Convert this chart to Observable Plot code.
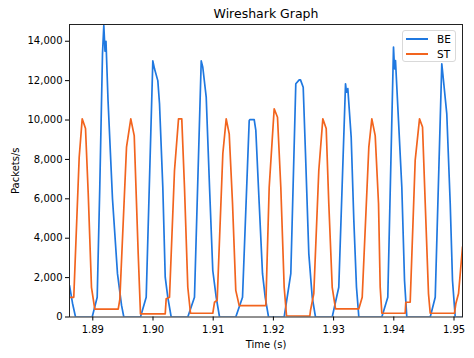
<!DOCTYPE html>
<html>
<head>
<meta charset="utf-8">
<script src="https://cdn.jsdelivr.net/npm/d3@7"></script>
<script src="https://cdn.jsdelivr.net/npm/@observablehq/plot@0.6"></script>
<style>
  html, body { margin: 0; padding: 0; background: #fff; }
  #wrap { position: relative; width: 474px; height: 358px; font-family: "DejaVu Sans", sans-serif; }
  #legend { position: absolute; left: 402px; top: 30px; width: 54px; height: 32px;
    border: 1px solid #d9d9d9; border-radius: 3px; background: rgba(255,255,255,0.85);
    font-size: 10.5px; color: #000; box-sizing: border-box; }
  .row { position: absolute; left: 3px; height: 12px; display: flex; align-items: center; }
  .sw { width: 22px; height: 0; border-top: 2px solid; margin-right: 9px; }
</style>
</head>
<body>
<div id="wrap"></div>
<script>
const title = "Wireshark Graph";
const xLabel = "Time (s)";
const yLabel = "Packets/s";
const seriesNames = ["BE", "ST"];
const seriesColors = ["#1f78e0", "#f2641e"];
const xTicks = [1.89, 1.90, 1.91, 1.92, 1.93, 1.94, 1.95];
const yTicks = [0, 2000, 4000, 6000, 8000, 10000, 12000, 14000];
const xDomain = [1.88613, 1.95141];
const yDomain = [0, 14850];

const beTime = [1.88613, 1.88663, 1.88713, 1.88990, 1.89073, 1.89116, 1.89161, 1.89183, 1.89203, 1.89219, 1.89253, 1.89327, 1.89410, 1.89477, 1.89515,
  1.89792, 1.89887, 1.89997, 1.90025, 1.90080, 1.90108, 1.90163, 1.90203, 1.90246, 1.90302,
  1.90578, 1.90689, 1.90801, 1.90827, 1.90884, 1.90939, 1.90993, 1.91050, 1.91105,
  1.91375, 1.91487, 1.91598, 1.91608, 1.91681, 1.91708, 1.91764, 1.91819, 1.91864, 1.91919,
  1.92179, 1.92289, 1.92372, 1.92429, 1.92450, 1.92495, 1.92533, 1.92588, 1.92645, 1.92699,
  1.92977, 1.93086, 1.93198, 1.93214, 1.93236, 1.93292, 1.93336, 1.93380, 1.93419,
  1.93801, 1.93900, 1.93995, 1.94012, 1.94028, 1.94078, 1.94133, 1.94178, 1.94216,
  1.94605, 1.94688, 1.94797, 1.94814, 1.94880, 1.94937, 1.94975, 1.95020, 1.95141];
const beValue = [1600, 700, 0, 0, 1000, 6590, 13360, 14800, 13500, 14000, 11000, 6000, 2200, 600, 0,
  0, 1000, 13000, 12600, 12000, 10840, 6590, 2020, 1000, 0,
  0, 1000, 13000, 12680, 11160, 6590, 2360, 1000, 0,
  0, 1000, 9970, 10025, 10025, 9470, 5760, 2200, 1000, 0,
  0, 2200, 11840, 12040, 12040, 11660, 8300, 3220, 1000, 0,
  0, 1510, 11840, 11410, 11600, 9130, 4900, 1510, 0,
  0, 1000, 13700, 12600, 13020, 9970, 6590, 1850, 0,
  0, 1000, 12850, 12350, 10310, 5760, 1850, 0, 0];

const stTime = [1.88613, 1.88684, 1.88774, 1.88824, 1.88879, 1.88924, 1.88978, 1.89033, 1.89422,
  1.89449, 1.89560, 1.89631, 1.89688, 1.89754, 1.89792, 1.90203,
  1.90219, 1.90274, 1.90357, 1.90424, 1.90478, 1.90523, 1.90578, 1.90623, 1.90993,
  1.91022, 1.91066, 1.91160, 1.91216, 1.91266, 1.91321, 1.91375, 1.91432, 1.91874,
  1.91930, 1.92013, 1.92068, 1.92123, 1.92179, 1.92218, 1.92605,
  1.92616, 1.92671, 1.92754, 1.92821, 1.92877, 1.92920, 1.92977, 1.93032, 1.93419,
  1.93475, 1.93585, 1.93635, 1.93691, 1.93746, 1.93774, 1.93801, 1.94189,
  1.94199, 1.94272, 1.94355, 1.94427, 1.94477, 1.94522, 1.94576, 1.94605, 1.95008,
  1.95030, 1.95075, 1.95141];
const stValue = [1000, 1000, 8110, 10060, 9570, 6270, 1510, 400, 400,
  900, 8620, 10060, 9210, 3220, 160, 160,
  920, 1000, 7440, 10060, 10060, 6590, 1510, 190, 190,
  750, 850, 8300, 10060, 9300, 5760, 1350, 580, 580,
  6590, 10570, 10140, 6590, 1510, 60, 40,
  330, 1190, 7440, 10060, 9570, 5760, 1510, 415, 415,
  1000, 8620, 10060, 9210, 5760, 1510, 190, 190,
  750, 750, 7950, 10060, 9650, 5760, 1190, 190, 190,
  670, 1190, 3550];

const rows = [];
beTime.forEach((t, i) => rows.push({series: seriesNames[0], t, v: beValue[i]}));
stTime.forEach((t, i) => rows.push({series: seriesNames[1], t, v: stValue[i]}));

const chart = Plot.plot({
  width: 474,
  height: 358,
  marginLeft: 69,
  marginRight: 12,
  marginTop: 24,
  marginBottom: 41.5,
  style: { fontFamily: "DejaVu Sans, sans-serif", fontSize: "10px", color: "#000", background: "#fff" },
  x: { domain: xDomain },
  y: { domain: yDomain },
  color: { domain: seriesNames, range: seriesColors },
  marks: [
    Plot.line(rows, { x: "t", y: "v", z: "series", stroke: "series", strokeWidth: 1.7, clip: true }),
    Plot.frame({ stroke: "#222", strokeWidth: 1 }),
    Plot.axisX({ ticks: xTicks, tickFormat: d3.format(".2f"), tickSize: 4, tickPadding: 5,
      label: xLabel, labelAnchor: "center", labelOffset: 31, labelArrow: "none" }),
    Plot.axisY({ ticks: yTicks, tickFormat: d3.format(","), tickSize: 4, tickPadding: 3,
      label: yLabel, labelAnchor: "center", labelOffset: 58, labelArrow: "none" }),
    Plot.text([title], { text: d => d, frameAnchor: "top", lineAnchor: "middle", dy: -11, fontSize: 12.5 })
  ]
});

const wrap = document.getElementById("wrap");
wrap.appendChild(chart);
const legend = document.createElement("div");
legend.id = "legend";
seriesNames.forEach((name, i) => {
  const row = document.createElement("div");
  row.className = "row";
  row.style.top = (2 + i * 15) + "px";
  const sw = document.createElement("span");
  sw.className = "sw";
  sw.style.borderColor = seriesColors[i];
  const tx = document.createElement("span");
  tx.textContent = name;
  row.appendChild(sw);
  row.appendChild(tx);
  legend.appendChild(row);
});
wrap.appendChild(legend);
</script>
</body>
</html>
